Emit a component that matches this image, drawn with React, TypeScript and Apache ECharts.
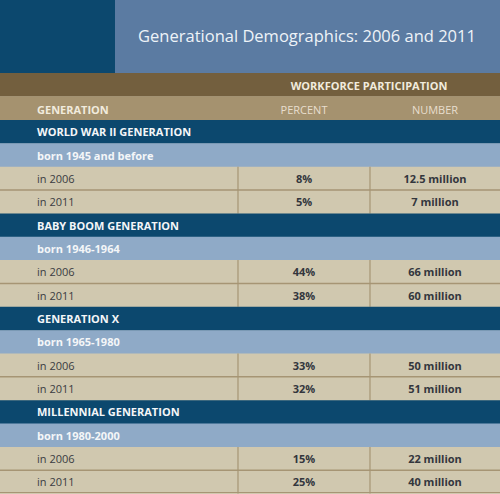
import React, { useEffect, useRef } from "react";
import * as echarts from "echarts";

const title = "Generational Demographics: 2006 and 2011";
const superHeader = "WORKFORCE PARTICIPATION";
const columnHeaders = ["GENERATION", "PERCENT", "NUMBER"];
const generations = ["WORLD WAR II GENERATION", "BABY BOOM GENERATION", "GENERATION X", "MILLENNIAL GENERATION"];
const bornRanges = ["born 1945 and before", "born 1946-1964", "born 1965-1980", "born 1980-2000"];
const years = ["in 2006", "in 2011"];
const percents = [["8%", "5%"], ["44%", "38%"], ["33%", "32%"], ["15%", "25%"]];
const numbers = [["12.5 million", "7 million"], ["66 million", "60 million"], ["50 million", "51 million"], ["22 million", "40 million"]];

const FONT = "'Open Sans', 'Noto Sans', sans-serif";
const W = 500;
const ROW_H = 23.35;
const TOP = 120;
const COL1 = 238;
const COL2 = 370;
const C_PCT = 304;
const C_NUM = 435;
const TEXT_X = 37;
const FS = 11;

const DARK_BLUE = "#0c486e";
const TITLE_BLUE = "#5b7ba2";
const BROWN = "#735f3e";
const TAN = "#a5926f";
const LIGHT_BLUE = "#8faac7";
const BEIGE = "#d0c8af";
const LINE = "#a69574";

export default function App() {
  const ref = useRef<HTMLDivElement>(null);
  useEffect(() => {
    if (!ref.current) return;
    const chart = echarts.init(ref.current, null, { renderer: "svg" });
    const els: any[] = [];
    els.push({ type: "rect", shape: { x: 0, y: 0, width: 115, height: 73 }, style: { fill: DARK_BLUE } });
    els.push({ type: "rect", shape: { x: 115, y: 0, width: W - 115, height: 73 }, style: { fill: TITLE_BLUE } });
    els.push({
      type: "text", x: 307, y: 35,
      style: { text: title, fill: "#eef3f8", font: `400 16.5px ${FONT}`, align: "center", verticalAlign: "middle" },
    });
    els.push({ type: "rect", shape: { x: 0, y: 73, width: W, height: 23.5 }, style: { fill: BROWN } });
    els.push({
      type: "text", x: 369, y: 85,
      style: { text: superHeader, fill: "#f1ebdd", font: `700 ${FS}px ${FONT}`, align: "center", verticalAlign: "middle" },
    });
    els.push({ type: "rect", shape: { x: 0, y: 96.5, width: W, height: TOP - 96.5 }, style: { fill: TAN } });
    els.push({
      type: "text", x: TEXT_X, y: 109,
      style: { text: columnHeaders[0], fill: "#f1ebdd", font: `700 ${FS}px ${FONT}`, align: "left", verticalAlign: "middle" },
    });
    els.push({
      type: "text", x: C_PCT, y: 109,
      style: { text: columnHeaders[1], fill: "#e8dece", font: `400 ${FS}px ${FONT}`, align: "center", verticalAlign: "middle" },
    });
    els.push({
      type: "text", x: C_NUM, y: 109,
      style: { text: columnHeaders[2], fill: "#e8dece", font: `400 ${FS}px ${FONT}`, align: "center", verticalAlign: "middle" },
    });

    generations.forEach((g, gi) => {
      const y0 = TOP + gi * 4 * ROW_H;
      els.push({ type: "rect", shape: { x: 0, y: y0, width: W, height: ROW_H + 0.5 }, style: { fill: DARK_BLUE } });
      els.push({
        type: "text", x: TEXT_X, y: y0 + ROW_H / 2,
        style: { text: g, fill: "#f4f6f8", font: `700 ${FS}px ${FONT}`, align: "left", verticalAlign: "middle" },
      });
      const y1 = y0 + ROW_H;
      els.push({ type: "rect", shape: { x: 0, y: y1, width: W, height: ROW_H + 0.5 }, style: { fill: LIGHT_BLUE } });
      els.push({
        type: "text", x: TEXT_X, y: y1 + ROW_H / 2,
        style: { text: bornRanges[gi], fill: "#f4f6f8", font: `700 ${FS}px ${FONT}`, align: "left", verticalAlign: "middle" },
      });
      years.forEach((yr, yi) => {
        const y2 = y1 + ROW_H * (yi + 1);
        els.push({ type: "rect", shape: { x: 0, y: y2, width: W, height: ROW_H + 0.5 }, style: { fill: BEIGE } });
        els.push({
          type: "text", x: TEXT_X, y: y2 + ROW_H / 2,
          style: { text: yr, fill: "#3a3c42", font: `400 ${FS}px ${FONT}`, align: "left", verticalAlign: "middle" },
        });
        els.push({
          type: "text", x: C_PCT, y: y2 + ROW_H / 2,
          style: { text: percents[gi][yi], fill: "#33363d", font: `700 ${FS}px ${FONT}`, align: "center", verticalAlign: "middle" },
        });
        els.push({
          type: "text", x: C_NUM, y: y2 + ROW_H / 2,
          style: { text: numbers[gi][yi], fill: "#33363d", font: `700 ${FS}px ${FONT}`, align: "center", verticalAlign: "middle" },
        });
        if (yi > 0) {
          els.push({ type: "line", shape: { x1: 0, y1: y2, x2: W, y2: y2 }, style: { stroke: LINE, lineWidth: 1.5 } });
        }
      });
      const yb = y1 + ROW_H;
      [COL1, COL2].forEach((cx) => {
        els.push({ type: "line", shape: { x1: cx, y1: yb, x2: cx, y2: yb + 2 * ROW_H }, style: { stroke: LINE, lineWidth: 1.2 } });
      });
    });
    els.push({ type: "line", shape: { x1: 0, y1: 492.5, x2: W, y2: 492.5 }, style: { stroke: LINE, lineWidth: 1 } });

    chart.setOption({ animation: false, graphic: { elements: els } });
    return () => chart.dispose();
  }, []);
  return <div ref={ref} style={{ position: "fixed", left: 0, top: 0, width: 500, height: 494, background: BEIGE }} />;
}
